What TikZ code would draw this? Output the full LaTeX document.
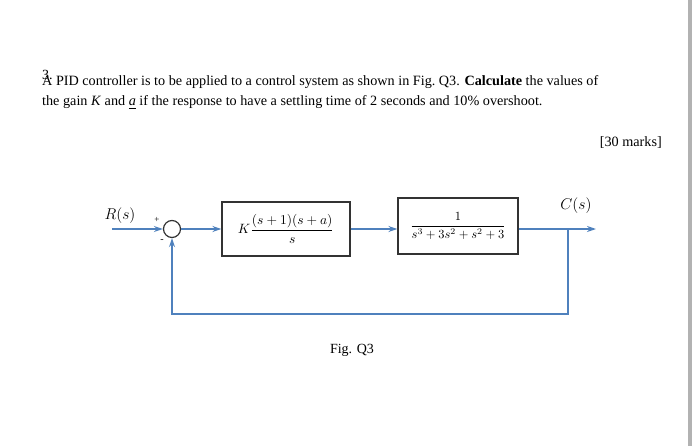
\documentclass[tikz,border=0pt]{standalone}
\usepackage{amsmath}
\usepackage{graphicx}
\usepackage{fontspec}
\setmainfont{Liberation Serif}
\usetikzlibrary{arrows.meta}
\definecolor{lb}{RGB}{79,129,189}
\tikzset{blk/.style={draw=black!80,line width=1.2pt,inner sep=0pt},
sig/.style={lb,line width=2pt,-{Stealth[length=9pt,width=6pt]}},
ln/.style={lb,line width=2pt}}
\begin{document}
\begin{tikzpicture}[x=1pt,y=-1pt]
\useasboundingbox (0,0) rectangle (700,446);
\fill[gray!60] (688,0) rectangle (692,446);
\node[anchor=base west,inner sep=0pt,font=\fontsize{14}{16}\selectfont] (n3) at (42,80) {3.};
\node[anchor=base west,inner sep=0pt,align=left,font=\fontsize{14.2}{20}\selectfont] (t) at (42,106) {A PID controller is to be applied to a control system as shown in Fig.~Q3. \textbf{Calculate} the values of\\ the gain \textit{K} and \underline{\textit{a}} if the response to have a settling time of 2 seconds and 10\% overshoot.};
\node[anchor=base east,inner sep=0pt,font=\fontsize{14.2}{16}\selectfont] (m) at (662,147) {[30 marks]};
\node[blk,minimum width=128pt,minimum height=54pt] (b1) at (286,229) {\scalebox{1.35}{$K\dfrac{(s+1)(s+a)}{s}$}};
\node[blk,minimum width=120pt,minimum height=56pt] (b2) at (458,226) {\scalebox{1.25}{$\dfrac{1}{s^3+3s^2+s^2+3}$}};
\node[draw=black!80,line width=1.2pt,circle,minimum size=17pt,inner sep=0pt] (c) at (172,229) {};
\coordinate (in) at (112,229);
\coordinate (out) at (596,229);
\coordinate (tap) at (568,229);
\coordinate (fb) at (568,314);
\node[font=\fontsize{13}{15}\selectfont] (r) at (120,216) {\scalebox{1.3}{$R(s)$}};
\node[font=\fontsize{13}{15}\selectfont] (cs) at (576,206) {\scalebox{1.3}{$C(s)$}};
\node[font=\fontsize{9}{9}\selectfont] (p) at (157,220) {+};
\node[font=\fontsize{10}{10}\selectfont] (mi) at (162,241) {-};
\draw[sig] (in) -- (c);
\draw[sig] (c) -- (b1);
\draw[sig] (b1) -- (b1.east -| b2.west);
\draw[ln] (b2.east |- tap) -- (tap);
\draw[sig] (tap) -- (out);
\draw[sig] (tap) -- (fb) -- (fb -| c) -- (c);
\node[font=\fontsize{14}{16}\selectfont] (fig) at (352,350) {Fig. Q3};
\end{tikzpicture}
\end{document}
